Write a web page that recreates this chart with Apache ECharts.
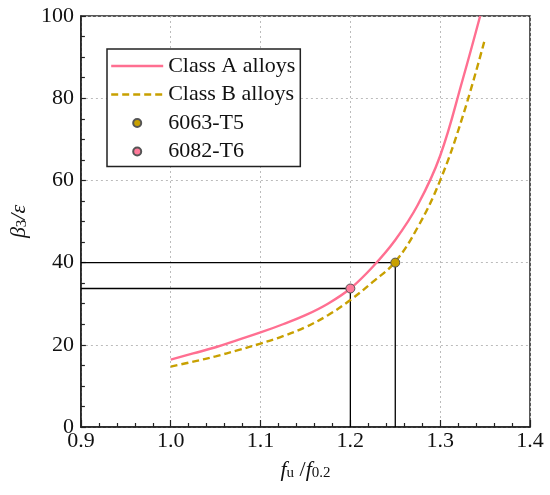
<!DOCTYPE html>
<html>
<head>
<meta charset="utf-8">
<script src="https://cdn.jsdelivr.net/npm/echarts@6/dist/echarts.min.js"></script>
<style>
html,body{margin:0;padding:0;background:#fff;}
#c{width:550px;height:495px;}
</style>
</head>
<body>
<div id="c"></div>
<script>
// Data
const classAX = [1.000, 1.025, 1.050, 1.075, 1.100, 1.125, 1.150, 1.175, 1.200, 1.225, 1.250, 1.275, 1.300, 1.325, 1.3445];
const classAY = [16.4, 17.9, 19.4, 21.2, 23.0, 25.0, 27.2, 30.0, 33.7, 39.0, 45.5, 54.0, 66.0, 84.5, 100.0];
const classBX = [1.000, 1.025, 1.050, 1.075, 1.100, 1.125, 1.150, 1.175, 1.200, 1.225, 1.250, 1.275, 1.300, 1.325, 1.349];
const classBY = [14.7, 15.9, 17.2, 18.7, 20.3, 22.1, 24.3, 27.2, 30.9, 35.3, 40.2, 48.6, 60.0, 75.5, 93.7];
const pointT5 = [1.25, 40.0];   // 6063-T5
const pointT6 = [1.20, 33.7];   // 6082-T6
const xTickLabels = ['0.9', '1.0', '1.1', '1.2', '1.3', '1.4'];
const yTickLabels = ['0', '20', '40', '60', '80', '100'];
const xMin = 0.9, xMax = 1.4, yMin = 0, yMax = 100;

const pairs = (xs, ys) => xs.map((x, i) => [x, ys[i]]);
const refPath = p => [[xMin, p[1]], [p[0], p[1]], [p[0], yMin]];

const serif = '"Liberation Serif", "DejaVu Serif", serif';
const pink = '#ff6f91';
const gold = '#c8a000';

const chart = echarts.init(document.getElementById('c'), null, {renderer: 'canvas'});
chart.setOption({
  animation: false,
  backgroundColor: '#fff',
  grid: {left: 69, right: 20, top: 16, bottom: 68, show: true, borderColor: '#222', borderWidth: 1.5, backgroundColor: 'transparent'},
  legend: {
    orient: 'vertical',
    left: 107, top: 49,
    padding: [6, 5, 4, 3],
    itemWidth: 52, itemHeight: 8, itemGap: 6.5,
    borderColor: '#222', borderWidth: 1.5, borderRadius: 0,
    backgroundColor: '#fff',
    textStyle: {fontFamily: serif, fontSize: 22, color: '#111', lineHeight: 22},
    data: [
      {name: 'Class A alloys', itemStyle: {opacity: 0}, lineStyle: {width: 2.4}},
      {name: 'Class B alloys', itemStyle: {opacity: 0}, lineStyle: {width: 2.4}},
      '6063-T5', '6082-T6'
    ]
  },
  xAxis: {
    type: 'value', min: xMin, max: xMax, interval: 0.1,
    name: '{i|f}{s|u}{n| /}{i|f}{s|0.2}',
    nameLocation: 'middle', nameGap: 30,
    nameTextStyle: {
      fontFamily: serif, color: '#111',
      rich: {
        i: {fontFamily: serif, fontStyle: 'italic', fontSize: 22, lineHeight: 24, verticalAlign: 'bottom', color: '#111'},
        n: {fontFamily: serif, fontSize: 22, lineHeight: 24, verticalAlign: 'bottom', color: '#111'},
        s: {fontFamily: serif, fontSize: 15, lineHeight: 18, verticalAlign: 'bottom', color: '#111'}
      }
    },
    axisLine: {lineStyle: {color: '#222', width: 1.5}},
    axisTick: {inside: true, length: 7, lineStyle: {color: '#222', width: 1.2}},
    minorTick: {show: true, splitNumber: 5, length: 4, lineStyle: {color: '#222', width: 1.2}},
    axisLabel: {
      fontFamily: serif, fontSize: 22, color: '#111', margin: 3,
      formatter: v => xTickLabels[Math.round((v - xMin) / 0.1)] || ''
    },
    splitLine: {show: true, lineStyle: {color: '#bbbbbb', type: [2, 3], width: 1}}
  },
  yAxis: {
    type: 'value', min: yMin, max: yMax, interval: 20,
    name: '{i|β}{s|3}{i|/ε}',
    nameLocation: 'middle', nameGap: 43, nameRotate: 90,
    nameTextStyle: {
      fontFamily: serif, color: '#111',
      rich: {
        i: {fontFamily: serif, fontStyle: 'italic', fontSize: 22, lineHeight: 24, verticalAlign: 'bottom', color: '#111'},
        s: {fontFamily: serif, fontSize: 15, lineHeight: 18, verticalAlign: 'bottom', color: '#111'}
      }
    },
    axisLine: {show: true, lineStyle: {color: '#222', width: 1.5}},
    axisTick: {show: true, inside: true, length: 5, lineStyle: {color: '#222', width: 1.2}},
    minorTick: {show: true, splitNumber: 4, length: 4, lineStyle: {color: '#222', width: 1.2}},
    axisLabel: {
      fontFamily: serif, fontSize: 22, color: '#111', margin: 7,
      formatter: v => yTickLabels[Math.round((v - yMin) / 20)] || ''
    },
    splitLine: {show: true, lineStyle: {color: '#bbbbbb', type: [2, 3], width: 1}}
  },
  series: [
    {
      name: 'refT5', type: 'line', data: refPath(pointT5), symbol: 'none', silent: true,
      lineStyle: {color: '#000', width: 1.3}, z: 2
    },
    {
      name: 'refT6', type: 'line', data: refPath(pointT6), symbol: 'none', silent: true,
      lineStyle: {color: '#000', width: 1.3}, z: 2
    },
    {
      name: 'Class A alloys', type: 'line', data: pairs(classAX, classAY),
      symbol: 'none', smooth: 0.4,
      itemStyle: {color: pink},
      lineStyle: {color: pink, width: 2.4}, z: 3
    },
    {
      name: 'Class B alloys', type: 'line', data: pairs(classBX, classBY),
      symbol: 'none', smooth: 0.4,
      itemStyle: {color: gold},
      lineStyle: {color: gold, width: 2.4, type: [7, 4]}, z: 3
    },
    {
      name: '6063-T5', type: 'scatter', data: [pointT5], symbol: 'circle', symbolSize: 9,
      itemStyle: {color: gold, borderColor: '#555', borderWidth: 1, opacity: 1}, z: 5
    },
    {
      name: '6082-T6', type: 'scatter', data: [pointT6], symbol: 'circle', symbolSize: 9,
      itemStyle: {color: '#ff7a9a', borderColor: '#555', borderWidth: 1, opacity: 1}, z: 5
    }
  ]
});
</script>
</body>
</html>
